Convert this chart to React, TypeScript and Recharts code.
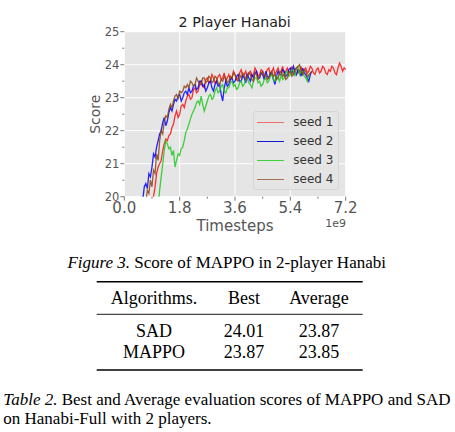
import React from 'react'
import { LineChart, Line, XAxis, YAxis, CartesianGrid, Legend } from 'recharts'

// timesteps in units of 1e9, one row per 0.5e9
const TIMESTEPS = [
  0.6, 0.65, 0.7, 0.75, 0.8, 0.85, 0.9, 0.95, 1.0, 1.05,
  1.1, 1.15, 1.2, 1.25, 1.3, 1.35, 1.4, 1.45, 1.5, 1.55,
  1.6, 1.65, 1.7, 1.75, 1.8, 1.85, 1.9, 1.95, 2.0, 2.05,
  2.1, 2.15, 2.2, 2.25, 2.3, 2.35, 2.4, 2.45, 2.5, 2.55,
  2.6, 2.65, 2.7, 2.75, 2.8, 2.85, 2.9, 2.95, 3.0, 3.05,
  3.1, 3.15, 3.2, 3.25, 3.3, 3.35, 3.4, 3.45, 3.5, 3.55,
  3.6, 3.65, 3.7, 3.75, 3.8, 3.85, 3.9, 3.95, 4.0, 4.05,
  4.1, 4.15, 4.2, 4.25, 4.3, 4.35, 4.4, 4.45, 4.5, 4.55,
  4.6, 4.65, 4.7, 4.75, 4.8, 4.85, 4.9, 4.95, 5.0, 5.05,
  5.1, 5.15, 5.2, 5.25, 5.3, 5.35, 5.4, 5.45, 5.5, 5.55,
  5.6, 5.65, 5.7, 5.75, 5.8, 5.85, 5.9, 5.95, 6.0, 6.05,
  6.1, 6.15, 6.2, 6.25, 6.3, 6.35, 6.4, 6.45, 6.5, 6.55,
  6.6, 6.65, 6.7, 6.75, 6.8, 6.85, 6.9, 6.95, 7.0, 7.05,
  7.1, 7.15, 7.2
]

const SEED_1 = [
  null, null, null, null, null, null, 19.7, 20.0, 20.3, 20.7,
  20.9, 21.0, 21.1, 21.4, 21.6, 21.75, 21.7, 21.85, 21.9, 22.1,
  22.2, 22.45, 22.6, 22.4, 22.5, 22.75, 22.8, 22.7, 22.9, 23.05,
  23.1, 22.95, 23.0, 23.25, 23.3, 23.15, 23.2, 23.4, 23.5, 23.35,
  23.3, 23.55, 23.6, 23.45, 23.5, 23.7, 23.6, 23.45, 23.5, 23.65,
  23.7, 23.55, 23.6, 23.75, 23.5, 23.6, 23.7, 23.55, 23.6, 23.8,
  23.7, 23.55, 23.6, 23.75, 23.85, 23.65, 23.7, 23.8, 23.6, 23.75,
  23.8, 23.65, 23.7, 23.9, 23.8, 23.65, 23.7, 23.85, 23.8, 23.65,
  23.7, 23.85, 23.9, 23.7, 23.8, 23.9, 23.7, 23.8, 23.9, 23.75,
  23.8, 23.95, 23.7, 23.8, 23.9, 23.75, 23.8, 23.95, 23.7, 23.85,
  23.9, 23.75, 23.8, 23.95, 23.7, 23.85, 23.9, 23.75, 23.8, 23.95,
  23.9, 23.75, 23.7, 23.85, 23.9, 23.75, 23.8, 23.95, 23.9, 23.75,
  23.7, 23.85, 23.8, 23.95, 23.9, 23.75, 23.7, 23.9, 24.05, 23.95,
  23.8, 23.9, 23.85
]

const SEED_2 = [
  19.9, 20.3, 20.4, 20.25, 20.7, 20.6, 20.9, 21.3, 21.2, 21.5,
  21.7, 21.9, 22.0, 22.25, 22.4, 22.15, 22.3, 22.55, 22.7, 22.6,
  22.8, 22.95, 22.9, 23.05, 23.1, 22.9, 23.0, 23.15, 23.2, 23.1,
  23.3, 23.15, 23.2, 23.35, 23.4, 23.25, 23.3, 23.5, 23.5, 23.35,
  23.4, 23.2, 23.3, 23.45, 23.5, 23.3, 23.2, 23.4, 23.5, 23.35,
  23.4, 23.1, 22.9, 23.3, 23.5, 23.35, 23.4, 23.55, 23.6, 23.45,
  23.5, 23.65, 23.7, 23.5, 23.5, 23.65, 23.6, 23.45, 23.7, 23.6,
  23.5, 23.7, 23.6, 23.75, 23.8, 23.6, 23.6, 23.75, 23.7, 23.55,
  23.8, 23.65, 23.6, 23.75, 23.7, 23.55, 23.4, 23.65, 23.8, 23.7,
  23.7, 23.85, 23.8, 23.65, 23.7, 23.85, 23.9, 23.75, 23.95, 23.8,
  23.7, 23.85, 23.8, 23.65, 23.9, 23.75, 23.7, 23.6, 23.5, 23.7,
  23.8
]

const SEED_3 = [
  null, null, null, null, null, null, null, null, null, null,
  19.7, 20.2, 20.6, 21.0, 21.4, 21.7, 21.6, 21.45, 21.5, 21.25,
  21.4, 20.9, 21.1, 21.3, 21.25, 21.45, 21.5, 21.7, 21.95, 22.05,
  22.2, 22.35, 22.5, 22.6, 22.7, 22.85, 22.9, 22.8, 23.05, 22.8,
  22.6, 22.75, 22.9, 23.05, 23.1, 22.95, 23.0, 23.2, 23.3, 23.15,
  23.2, 23.35, 23.4, 23.2, 23.15, 23.3, 23.3, 23.45, 23.5, 23.35,
  23.4, 23.25, 23.3, 23.45, 23.5, 23.35, 23.4, 23.55, 23.6, 23.45,
  23.4, 23.3, 23.5, 23.6, 23.6, 23.45, 23.5, 23.35, 23.4, 23.55,
  23.6, 23.45, 23.5, 23.65, 23.7, 23.55, 23.5, 23.65, 23.6, 23.5,
  23.7, 23.55, 23.6, 23.75, 23.8, 23.65, 23.7, 23.85, 23.8, 23.65,
  23.9, 23.95, 23.7, 23.8, 23.8, 23.65, 23.6, 23.5, 23.7
]

const SEED_4 = [
  null, null, 19.8, 20.2, 20.1, 20.5, 20.3, 20.8, 20.7, 21.3,
  21.1, 21.7, 22.0, 21.9, 22.3, 22.45, 22.4, 22.65, 22.8, 22.7,
  22.9, 23.05, 23.1, 22.95, 23.2, 23.15, 23.2, 23.35, 23.3, 23.4,
  23.3, 23.5, 23.45, 23.35, 23.4, 23.6, 23.5, 23.4, 23.4, 23.6,
  23.6, 23.45, 23.5, 23.65, 23.6, 23.45, 23.5, 23.65, 23.6, 23.45,
  23.4, 23.55, 23.5, 23.65, 23.6, 23.45, 23.5, 23.65, 23.6, 23.75,
  23.7, 23.55, 23.5, 23.7, 23.6, 23.75, 23.7, 23.55, 23.6, 23.75,
  23.7, 23.55, 23.5, 23.75, 23.7, 23.55, 23.6, 23.75, 23.8, 23.65,
  23.7, 23.55, 23.6, 23.75, 23.8, 23.65, 23.7, 23.55, 23.6, 23.75,
  23.8, 23.65, 23.7, 23.55, 23.6, 23.75, 23.8, 23.65, 23.7, 23.85,
  23.9, 23.95, 24.0, 23.8, 23.7, 23.85, 23.8, 23.65, 23.7, 23.75,
  23.8
]

const X_TICKS = [0, 0.9, 1.8, 2.7, 3.6, 4.5, 5.4, 6.3, 7.2]
const X_LABELS = [0, 1.8, 3.6, 5.4, 7.2]
const Y_TICKS = [20, 20.5, 21, 21.5, 22, 22.5, 23, 23.5, 24, 24.5, 25]
const Y_LABELS = [20, 21, 22, 23, 24, 25]

const SERIES = [
  { key: 'seed1', name: 'seed 1', color: '#ff0000', legend: '#f36a6a', opacity: 0.8 },
  { key: 'seed2', name: 'seed 2', color: '#0000ff', legend: '#1515d5', opacity: 0.85 },
  { key: 'seed3', name: 'seed 3', color: '#1ec81e', legend: '#3bd23b', opacity: 0.85 },
  { key: 'seed4', name: 'seed 4', color: '#8b4513', legend: '#a57155', opacity: 0.85 }
]

const ALGORITHMS = ['SAD', 'MAPPO']
const BEST = ['24.01', '23.87']
const AVERAGE = ['23.87', '23.85']

const data = TIMESTEPS.map((t, i) => ({
  t,
  seed1: SEED_1[i] ?? null,
  seed2: SEED_2[i] ?? null,
  seed3: SEED_3[i] ?? null,
  seed4: SEED_4[i] ?? null
}))

const SANS = '"DejaVu Sans", Verdana, sans-serif'
const SERIF = '"Liberation Serif", "Times New Roman", serif'
const GREY = '#555555'

function YTick(props: any) {
  const { x, y, payload } = props
  const major = Y_LABELS.includes(payload.value)
  return (
    <g>
      <line x1={major ? x : x + 2} x2={x + 4} y1={y} y2={y} stroke={GREY} strokeWidth={0.8} />
      {major && (
        <text x={x - 1} y={y} dy="0.36em" textAnchor="end" fontSize={11.5} fill={GREY} fontFamily={SANS}>
          {payload.value}
        </text>
      )}
    </g>
  )
}

function XTick(props: any) {
  const { x, y, payload } = props
  const major = X_LABELS.includes(payload.value)
  return (
    <g>
      <line x1={x} x2={x} y1={y - 4} y2={major ? y : y - 2} stroke={GREY} strokeWidth={0.8} />
      {major && (
        <text x={x} y={y + 12.6} textAnchor="middle" fontSize={15} fill={GREY} fontFamily={SANS}>
          {payload.value.toFixed(1)}
        </text>
      )}
    </g>
  )
}

function LegendBox() {
  return (
    <div
      style={{
        width: 86,
        height: 79,
        boxSizing: 'border-box',
        paddingTop: 1,
        background: 'rgba(229,229,229,0.8)',
        border: '1px solid #d6d6d6',
        borderRadius: 3,
        fontFamily: SANS,
        fontSize: 12,
        color: '#333',
        textAlign: 'left'
      }}
    >
      {SERIES.map((s) => (
        <div key={s.key} style={{ height: 19, display: 'flex', alignItems: 'center' }}>
          <span
            style={{
              display: 'inline-block',
              marginLeft: 3.3,
              width: 26.7,
              height: 1.5,
              background: s.legend
            }}
          />
          <span style={{ marginLeft: 9.3, lineHeight: '19px' }}>{s.name}</span>
        </div>
      ))}
    </div>
  )
}

export default function App() {
  return (
    <div style={{ position: 'absolute', left: 0, top: 0, width: 455, height: 432, background: '#fff' }}>
      <div style={{ position: 'absolute', left: 0, top: 0 }}>
        <LineChart
          width={360}
          height={240}
          data={data}
          margin={{ top: 31.7, right: 14.3, bottom: 3.3, left: 94.3 }}
        >
          <CartesianGrid
            fill="#e5e5e5"
            stroke="#ffffff"
            strokeWidth={1}
            horizontalValues={Y_LABELS}
            verticalValues={X_LABELS}
          />
          <XAxis
            dataKey="t"
            type="number"
            domain={[0, 7.2]}
            ticks={X_TICKS}
            interval={0}
            height={40}
            axisLine={false}
            tickLine={false}
            tickSize={4}
            tickMargin={0}
            tick={<XTick />}
          />
          <YAxis
            type="number"
            domain={[20, 25]}
            ticks={Y_TICKS}
            interval={0}
            allowDataOverflow
            width={30}
            axisLine={false}
            tickLine={false}
            tickSize={4}
            tickMargin={0}
            tick={<YTick />}
          />
          {SERIES.map((s) => (
            <Line
              key={s.key}
              type="linear"
              dataKey={s.key}
              name={s.name}
              stroke={s.color}
              strokeOpacity={s.opacity}
              strokeWidth={1.3}
              dot={false}
              isAnimationActive={false}
            />
          ))}
          <Legend
            layout="vertical"
            align="center"
            verticalAlign="middle"
            wrapperStyle={{ position: 'absolute', left: 253, top: 111, width: 86, height: 79 }}
            content={() => <LegendBox />}
          />
        </LineChart>
      </div>

      <svg
        width={455}
        height={432}
        style={{ position: 'absolute', left: 0, top: 0, pointerEvents: 'none' }}
      >
        <text x={234.7} y={27.3} textAnchor="middle" fontSize={14.2} fill="#222" fontFamily={SANS}>
          2 Player Hanabi
        </text>
        <text x={235} y={230.5} textAnchor="middle" fontSize={15} fill={GREY} fontFamily={SANS}>
          Timesteps
        </text>
        <text x={346} y={226.5} textAnchor="end" fontSize={11} fill={GREY} fontFamily={SANS}>
          1e9
        </text>
        <text
          transform="translate(100,114.2) rotate(-90)"
          textAnchor="middle"
          fontSize={14}
          fill={GREY}
          fontFamily={SANS}
        >
          Score
        </text>

        <text x={226.7} y={267.5} textAnchor="middle" fontSize={17} fill="#000" fontFamily={SERIF}>
          <tspan fontStyle="italic">Figure 3.</tspan> Score of MAPPO in 2-player Hanabi
        </text>

        <line x1={96.7} x2={362.7} y1={281.7} y2={281.7} stroke="#000" strokeWidth={1.6} />
        <g fontFamily={SERIF} fontSize={18} fill="#000" textAnchor="middle">
          <text x={154} y={304.3}>Algorithms.</text>
          <text x={244} y={304.3}>Best</text>
          <text x={319} y={304.3}>Average</text>
        </g>
        <line x1={96.7} x2={362.7} y1={314.3} y2={314.3} stroke="#000" strokeWidth={0.9} />
        <g fontFamily={SERIF} fontSize={18} fill="#000" textAnchor="middle">
          {ALGORITHMS.map((a, i) => (
            <React.Fragment key={a}>
              <text x={154} y={336.5 + i * 21.3}>{a}</text>
              <text x={244} y={336.5 + i * 21.3}>{BEST[i]}</text>
              <text x={319} y={336.5 + i * 21.3}>{AVERAGE[i]}</text>
            </React.Fragment>
          ))}
        </g>
        <line x1={96.7} x2={362.7} y1={370} y2={370} stroke="#000" strokeWidth={1.6} />

        <text x={3.3} y={405} fontSize={17} fill="#000" fontFamily={SERIF}>
          <tspan fontStyle="italic">Table 2.</tspan> Best and Average evaluation scores of MAPPO and SAD
        </text>
        <text x={3.3} y={424.3} fontSize={17} fill="#000" fontFamily={SERIF}>
          on Hanabi-Full with 2 players.
        </text>
      </svg>
    </div>
  )
}
